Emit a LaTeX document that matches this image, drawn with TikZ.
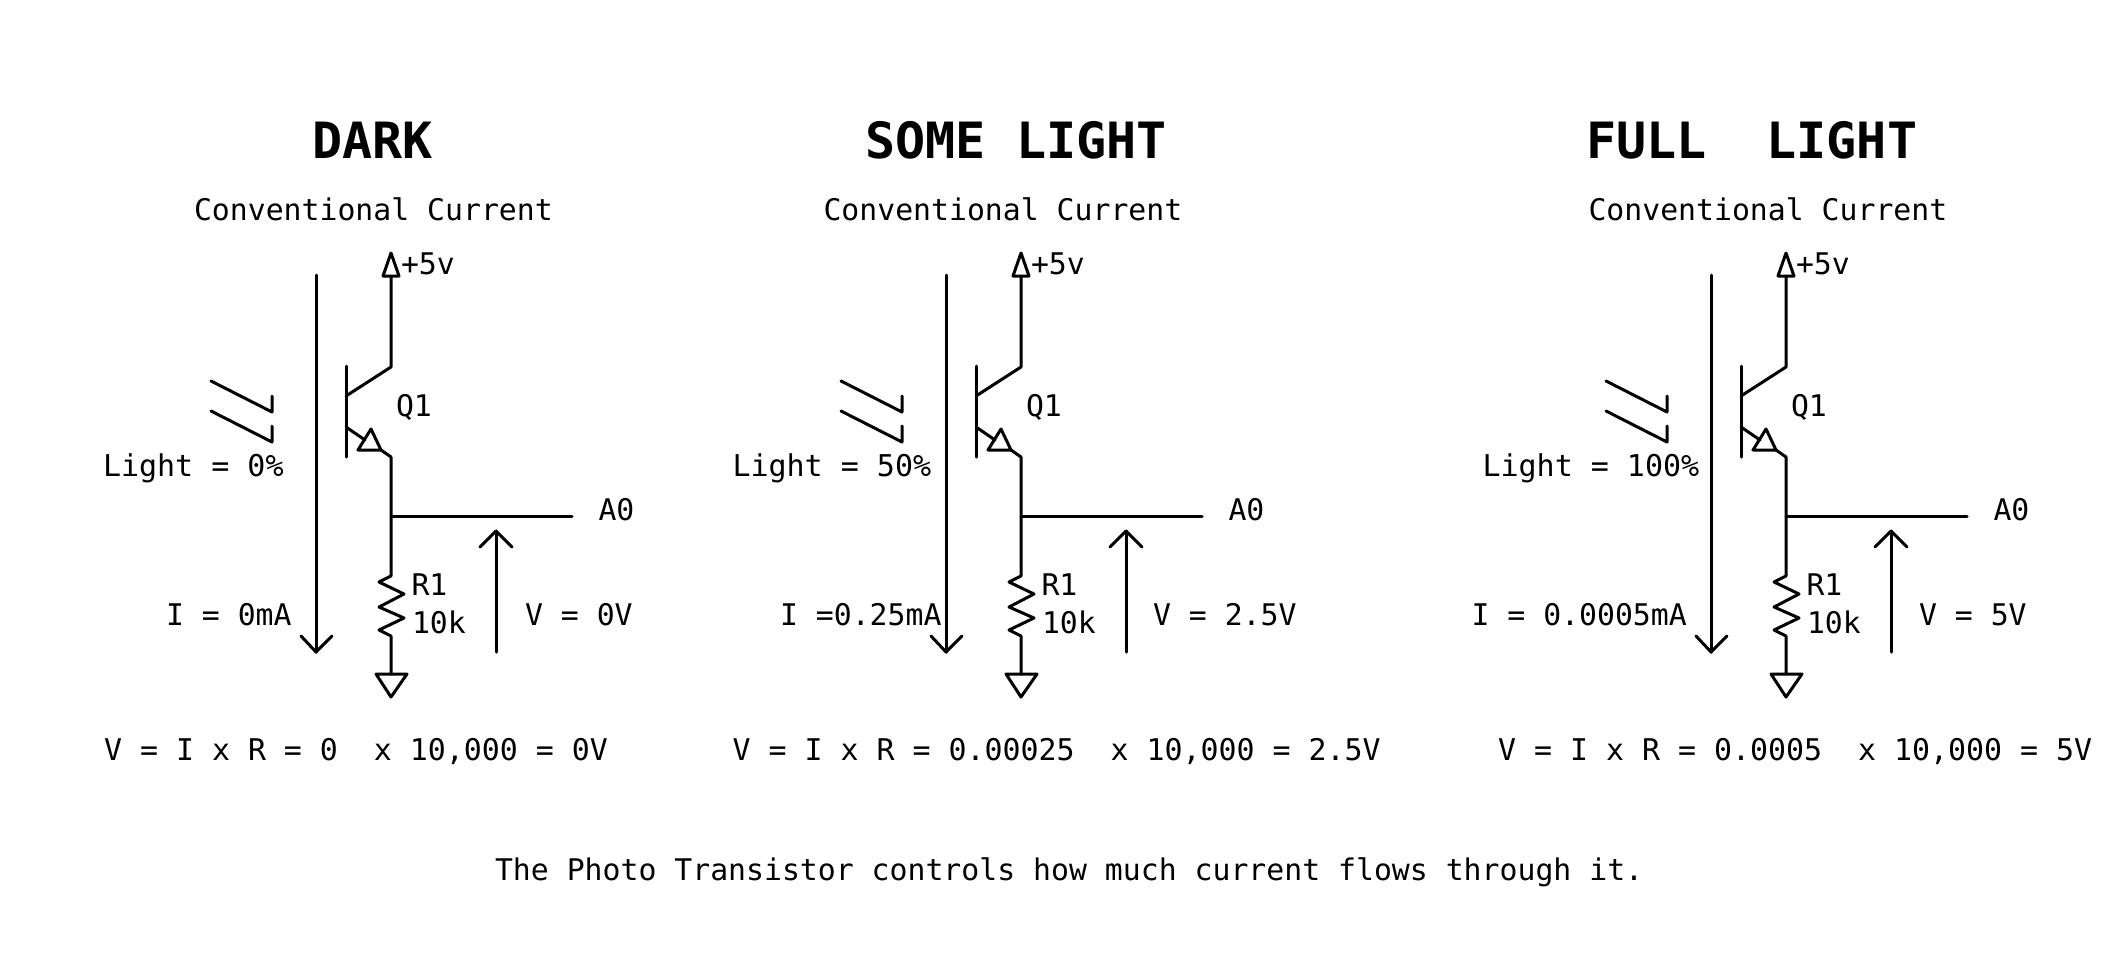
\documentclass[tikz,border=0pt]{standalone}
\usepackage{fontspec}
\setmainfont{DejaVu Sans Mono}
\tikzset{
  wire/.style={line width=3pt,line cap=round,line join=round,draw=black},
  lbl/.style={anchor=base west,inner sep=0pt,outer sep=0pt,font=\fontsize{29.8}{30}\selectfont},
  wide/.style={lbl,font=\fontsize{30}{30}\selectfont},
  eqn/.style={lbl,font=\fontsize{29.9}{30}\selectfont},
  ttl/.style={anchor=base west,inner sep=0pt,outer sep=0pt,font=\fontsize{50}{50}\selectfont\bfseries}
}
\newcommand{\circuit}[2]{%
\begin{scope}[xshift=#1pt,name prefix=#2-]
  % named points
  \coordinate (vcc) at (391,276);
  \coordinate (coll) at (391,367);
  \coordinate (bj) at (346,396);
  \coordinate (btop) at (346,366);
  \coordinate (bbot) at (346,457);
  \coordinate (ej) at (346,427);
  \coordinate (emit) at (391,457);
  \coordinate (jn) at (391,516);
  \coordinate (a0) at (572,516);
  \coordinate (rtop) at (391,576);
  \coordinate (rbot) at (391,636);
  \coordinate (gnd) at (391,674);
  \coordinate (itop) at (316,275);
  \coordinate (itip) at (316,652);
  \coordinate (vbot) at (496,652);
  \coordinate (vtip) at (496,531);
  % supply
  \draw[wire] (vcc) -- (383,276) -- (391,253) -- (399,276) -- cycle;
  \draw[wire] (vcc) -- (coll) -- (bj);
  \draw[wire] (btop) -- (bbot);
  \draw[wire] (ej) -- (365,440);
  \draw[wire] (381,450) -- (emit);
  \draw[wire] (371,429) -- (358,450) -- (381,450) -- cycle;
  \draw[wire] (emit) -- (jn) -- (rtop) -- (379,582) -- (404,594) -- (379,607) -- (404,618) -- (379,630) -- (rbot) -- (gnd);
  \draw[wire] (jn) -- (a0);
  \draw[wire] (gnd) -- (376,674) -- (391,697) -- (407,674) -- cycle;
  % light rays
  \draw[wire] (211,381) -- (272,412) -- (272,396);
  \draw[wire] (211,411) -- (272,442) -- (272,426);
  % current arrow
  \draw[wire] (itop) -- (itip);
  \draw[wire] (301,636) -- (itip) -- (332,636);
  % voltage arrow
  \draw[wire] (vbot) -- (vtip);
  \draw[wire] (480,547) -- (vtip) -- (512,547);
  % labels
  \node[lbl] (plus) at (401,274) {+5v};
  \node[lbl] (q) at (396,416) {Q1};
  \node[lbl] (aa) at (598.5,520) {A0};
  \node[lbl] (r) at (411.5,595) {R1};
  \node[lbl] (k) at (412,633) {10k};
\end{scope}}
\begin{document}
\begin{tikzpicture}[x=1pt,y=-1pt]
\fill[white] (0,0) rectangle (2125,975);
\useasboundingbox (0,0) rectangle (2125,975);
\circuit{0}{a}
\circuit{630}{b}
\circuit{1395}{c}
% panel 1
\node[ttl] (t1) at (312,158) {DARK};
\node[lbl] (c1) at (194,220) {Conventional Current};
\node[wide] (l1) at (103,476) {Light = 0\%};
\node[lbl] (i1) at (166,625) {I = 0mA};
\node[lbl] (v1) at (525,625) {V = 0V};
\node[eqn] (e1) at (104,760) {V = I x R = 0~~x 10,000 = 0V};
% panel 2
\node[ttl] (t2) at (865.5,158) {SOME LIGHT};
\node[lbl] (c2) at (823.5,220) {Conventional Current};
\node[wide] (l2) at (732.5,476) {Light = 50\%};
\node[lbl] (i2) at (780,625) {I =0.25mA};
\node[lbl] (v2) at (1153,625) {V = 2.5V};
\node[eqn] (e2) at (732.5,760) {V = I x R = 0.00025~~x 10,000 = 2.5V};
% panel 3
\node[ttl] (t3) at (1586,158) {FULL~~LIGHT};
\node[lbl] (c3) at (1588.5,220) {Conventional Current};
\node[wide] (l3) at (1482.5,476) {Light = 100\%};
\node[lbl] (i3) at (1471.5,625) {I = 0.0005mA};
\node[lbl] (v3) at (1919,625) {V = 5V};
\node[eqn] (e3) at (1498,760) {V = I x R = 0.0005~~x 10,000 = 5V};
% caption
\node[lbl] (cap) at (495,880) {The Photo Transistor controls how much current flows through it.};
\end{tikzpicture}
\end{document}
